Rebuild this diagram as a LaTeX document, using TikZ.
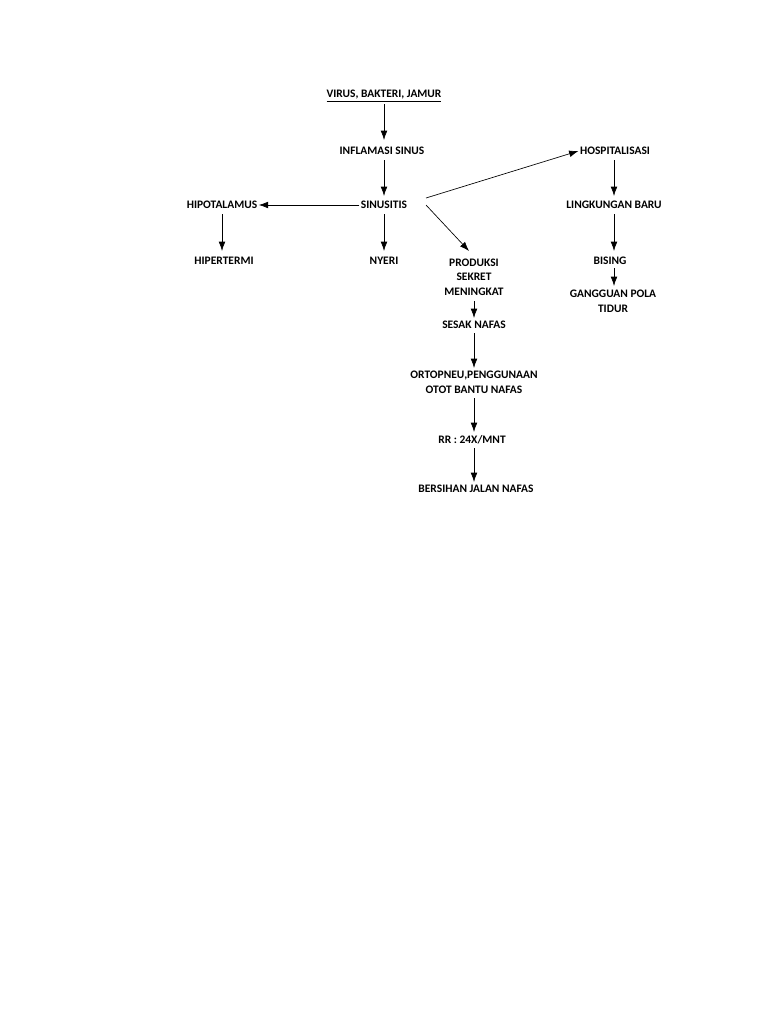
\documentclass[tikz,border=0pt]{standalone}
\usepackage{fontspec}
\setmainfont{Carlito}
\usetikzlibrary{arrows.meta}
\begin{document}
\begin{tikzpicture}[x=0.75pt,y=-0.75pt,
  lbl/.style={font=\bfseries\fontsize{8.6}{11}\selectfont,inner sep=1pt,align=center},
  arr/.style={-{Latex[length=7pt,width=5pt]},line width=0.5pt}]
\useasboundingbox[fill=white] (0,0) rectangle (768,1024);
\node[lbl] (v) at (384,96) {\underline{VIRUS, BAKTERI, JAMUR}};
\node[lbl] (inf) at (382,151) {INFLAMASI SINUS};
\node[lbl] (s) at (384,205) {SINUSITIS};
\node[lbl] (hip) at (222,205) {HIPOTALAMUS};
\node[lbl] (hpt) at (224,261) {HIPERTERMI};
\node[lbl] (ny) at (384,261) {NYERI};
\node[lbl] (pr) at (474,277) {PRODUKSI\\SEKRET\\MENINGKAT};
\node[lbl] (ses) at (474,325) {SESAK NAFAS};
\node[lbl] (ort) at (474,382) {ORTOPNEU,PENGGUNAAN\\OTOT BANTU NAFAS};
\node[lbl] (rr) at (472,440) {RR : 24X/MNT};
\node[lbl] (ber) at (476,489) {BERSIHAN JALAN NAFAS};
\node[lbl] (hos) at (615,151) {HOSPITALISASI};
\node[lbl] (lin) at (614,205) {LINGKUNGAN BARU};
\node[lbl] (bis) at (610,261) {BISING};
\node[lbl] (gan) at (613,301) {GANGGUAN POLA\\TIDUR};
\coordinate (s1) at (426,198);
\coordinate (s2) at (426,205);
\draw[arr] (384,104) -- (384,140);
\draw[arr] (384,160) -- (384,196);
\draw[arr] (s.west) -- (hip.east);
\draw[arr] (222,214) -- (222,251);
\draw[arr] (384,214) -- (384,251);
\draw[arr] (s1) -- (hos.west);
\draw[arr] (s2) -- (469,251);
\draw[arr] (614,160) -- (614,196);
\draw[arr] (614,214) -- (614,251);
\draw[arr] (614,268) -- (614,286);
\draw[arr] (474,301) -- (474,318);
\draw[arr] (474,333) -- (474,368);
\draw[arr] (474,398) -- (474,432);
\draw[arr] (474,448) -- (474,482);
\end{tikzpicture}
\end{document}
